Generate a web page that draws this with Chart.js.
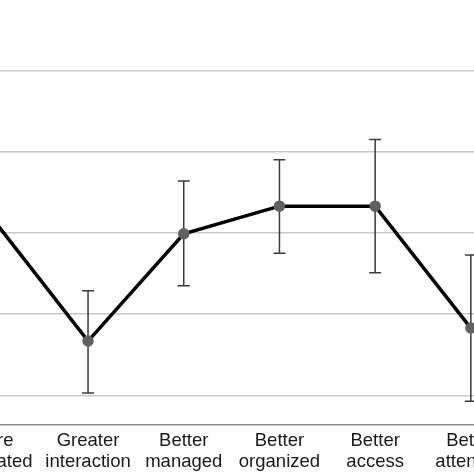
<!DOCTYPE html>
<html>
<head>
<meta charset="utf-8">
<script src="https://cdn.jsdelivr.net/npm/chart.js@4"></script>
<style>
html, body { margin: 0; padding: 0; background: #fff; overflow: hidden; width: 474px; height: 474px; }
/* the chart is wider than the window: first and last categories are cropped */
#wrap { position: absolute; left: -63px; top: -7.5px; width: 589.2px; height: 485.7px; }
</style>
</head>
<body>
<div id="wrap"><canvas id="myChart"></canvas></div>
<script>
// categories (first and last are cut off by the crop)
const labels = [
    ['More', 'motivated'],
    ['Greater', 'interaction'],
    ['Better', 'managed'],
    ['Better', 'organized'],
    ['Better', 'access'],
    ['Better', 'attention']
];
const means = [3.18, 1.67, 2.99, 3.33, 3.33, 1.83];
const errUp = [0.60, 0.62, 0.65, 0.57, 0.82, 0.90];
const errDown = [0.60, 0.64, 0.64, 0.58, 0.82, 0.90];
const gridTicks = [1, 2, 3, 4, 5];
const yMin = 0.643;
const yMax = 5.86;

// simple error bars drawn through the chart scales
const errorBars = {
    id: 'errorBars',
    beforeDatasetsDraw(chart) {
        const ctx = chart.ctx;
        const x = chart.scales.x;
        const y = chart.scales.y;
        ctx.save();
        ctx.strokeStyle = '#3a3a3a';
        ctx.lineWidth = 1.5;
        means.forEach((m, i) => {
            const px = x.getPixelForValue(i);
            const top = y.getPixelForValue(m + errUp[i]);
            const bot = y.getPixelForValue(m - errDown[i]);
            ctx.beginPath();
            ctx.moveTo(px, top);
            ctx.lineTo(px, bot);
            ctx.moveTo(px - 6, top);
            ctx.lineTo(px + 6, top);
            ctx.moveTo(px - 6, bot);
            ctx.lineTo(px + 6, bot);
            ctx.stroke();
        });
        ctx.restore();
    }
};

const ctx = document.getElementById('myChart').getContext('2d');
const myChart = new Chart(ctx, {
    type: 'line',
    data: {
        labels: labels,
        datasets: [{
            data: means,
            borderColor: '#000',
            borderWidth: 3.5,
            pointRadius: 4,
            pointBackgroundColor: '#606060',
            pointBorderColor: '#606060',
            tension: 0
        }]
    },
    options: {
        responsive: true,
        maintainAspectRatio: false,
        animation: false,
        layout: { padding: 0 },
        plugins: { legend: { display: false }, tooltip: { enabled: false } },
        scales: {
            x: {
                offset: true,
                afterFit: (scale) => { scale.paddingLeft = 0; scale.paddingRight = 0; },
                grid: { display: false, drawTicks: false },
                border: { display: true, color: '#8c8c8c', width: 1.5 },
                ticks: {
                    color: '#1a1a1a',
                    font: { family: 'Liberation Sans, Arial, sans-serif', size: 18.5, lineHeight: 1.14 },
                    maxRotation: 0,
                    autoSkip: false,
                    padding: 6
                }
            },
            y: {
                min: yMin,
                max: yMax,
                afterBuildTicks: (scale) => { scale.ticks = gridTicks.map(v => ({ value: v })); },
                ticks: { display: false },
                border: { display: false },
                grid: { color: '#c8c8c8', lineWidth: 1.5, drawTicks: false }
            }
        }
    },
    plugins: [errorBars]
});
</script>
</body>
</html>
